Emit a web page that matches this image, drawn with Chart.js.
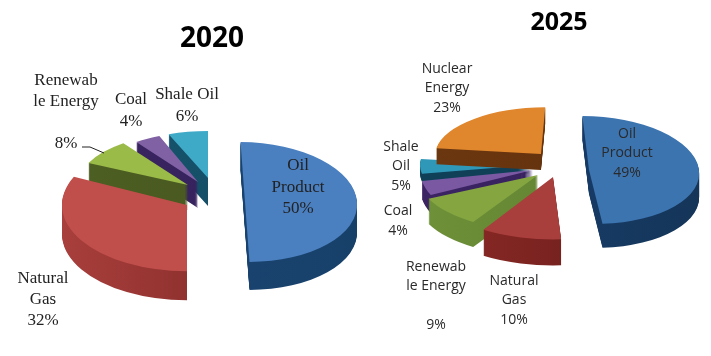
<!DOCTYPE html>
<html>
<head>
<meta charset="utf-8">
<title>Energy mix 2020 and 2025</title>
<script src="https://cdn.jsdelivr.net/npm/chart.js@4"></script>
<style>
    html, body { margin: 0; padding: 0; background: #fff; }
    #stage { position: relative; width: 711px; height: 356px; overflow: hidden; }
    canvas { position: absolute; top: 0; filter: blur(0.4px); }
    #chart2020 { left: 0; }
    #chart2025 { left: 370px; }
</style>
</head>
<body>
<div id="stage">
    <canvas id="chart2020" width="424" height="356"></canvas>
    <canvas id="chart2025" width="378" height="356"></canvas>
</div>
<script>
// Data
const categories2020 = ['Oil Product', 'Natural Gas', 'Renewable Energy', 'Coal', 'Shale Oil'];
const values2020 = [50, 32, 8, 4, 6];
const categories2025 = ['Oil Product', 'Natural Gas', 'Renewable Energy', 'Coal', 'Shale Oil', 'Nuclear Energy'];
const values2025 = [49, 10, 9, 4, 5, 23];

// Slice colours: top surface, then side wall (light to dark)
const tops2020 = ['#4a7fc0', '#c04f4b', '#9abb48', '#8062a4', '#3fa9c8'];
const walls2020 = [['#1b4673', '#174069'], ['#a83f3c', '#7a2523'], ['#4d5f22', '#465420'], ['#3a2560', '#33205a'], ['#17556e', '#134a62']];
const tops2025 = ['#3c74b0', '#a83f3c', '#85a540', '#7a58a2', '#2f98b8', '#e0862c'];
const walls2025 = [['#173f6e', '#153558'], ['#8e2b27', '#641a18'], ['#6f9138', '#5c7c30'], ['#3c2463', '#33205a'], ['#0f4058', '#0f4058'], ['#6b3710', '#5f2f0c']];

// Exploded layout of each slice, same order as the values
const cx2020 = [245, 187, 188, 198, 208];
const cy2020 = [202, 205, 185, 182, 178];
const radius2020 = [112, 125, 110, 105, 107];
const flat2020 = [0.535, 0.53, 0.47, 0.47, 0.44];
const lean2020 = [0.04, 0, 0, 0, 0];
const depth2020 = [28, 29, 25, 26, 28];
const order2020 = [0, 4, 3, 2, 1];

const cx2025 = [589, 553, 538, 533, 530, 541];
const cy2025 = [170, 177, 175, 170, 165, 154];
const radius2025 = [110, 130, 121, 113, 110, 106];
const flat2025 = [0.49, 0.48, 0.46, 0.52, 0.43, 0.44];
const lean2025 = [0.06, 0, 0, 0, 0, -0.04];
const depth2025 = [24, 26, 25, 18, 8, 16];
const order2025 = [0, 4, 3, 5, 2, 1];

// Wrapped label text ('' keeps an empty line), the value is added under it
const lines2020 = [['Oil', 'Product'], ['Natural', 'Gas'], ['Renewab', 'le Energy', ''], ['Coal'], ['Shale Oil']];
const labelX2020 = [298, 43, 66, 131, 187];
const labelY2020 = [166, 279, 81, 100, 95];
const labelStep2020 = [21.5, 21, 21, 22, 22];

const lines2025 = [['Oil', 'Product'], ['Natural', 'Gas'], ['Renewab', 'le Energy', ''], ['Coal'], ['Shale', 'Oil'], ['Nuclear', 'Energy']];
const labelX2025 = [627, 514, 436, 398, 401, 447];
const labelY2025 = [134, 281, 267, 211, 147, 69];
const labelStep2025 = [19.5, 19.5, 19.5, 20, 19.5, 19.5];

// Draws the pie's own arc elements flattened and extruded
function pie3d(look) {
    function drawArc(chart, arc, i, drop, fill) {
        const ctx = chart.ctx;
        const scale = look.radius[i] / arc.outerRadius;
        ctx.save();
        ctx.transform(scale, 0, look.lean[i] * scale, look.flat[i] * scale,
            look.cx[i] - look.left, look.cy[i] + drop);
        ctx.translate(-arc.x, -arc.y);
        const saved = arc.options;
        if (fill) {
            const grad = ctx.createLinearGradient(arc.x - arc.outerRadius, 0, arc.x + arc.outerRadius, 0);
            grad.addColorStop(0, fill[0]);
            grad.addColorStop(1, fill[1]);
            arc.options = { ...saved, backgroundColor: grad };
        }
        arc.draw(ctx);
        arc.options = saved;
        ctx.restore();
    }

    return {
        id: 'pie3d',
        beforeDatasetsDraw(chart) {
            const arcs = chart.getDatasetMeta(0).data;
            look.order.forEach(i => {
                for (let d = look.depth[i]; d > 0; d--) {
                    drawArc(chart, arcs[i], i, d, look.walls[i]);
                }
                drawArc(chart, arcs[i], i, 0, null);
            });
            return false;
        },
        afterDraw(chart) {
            const ctx = chart.ctx;
            ctx.save();
            ctx.font = look.font;
            ctx.fillStyle = look.textColor;
            ctx.textAlign = 'center';
            ctx.textBaseline = 'middle';
            look.lines.forEach((lines, i) => {
                [...lines, look.values[i] + '%'].forEach((text, n) => {
                    if (text) ctx.fillText(text, look.labelX[i] - look.left, look.labelY[i] + n * look.labelStep[i]);
                });
            });
            if (look.leader) look.leader(ctx);
            ctx.restore();
        }
    };
}

function makeChart(id, categories, values, tops, title, titleSize, titleTop, look) {
    new Chart(document.getElementById(id), {
        type: 'pie',
        data: {
            labels: categories,
            datasets: [{
                data: values,
                backgroundColor: tops,
                borderWidth: 0
            }]
        },
        options: {
            responsive: false,
            animation: false,
            radius: 100,
            plugins: {
                legend: { display: false },
                tooltip: { enabled: false },
                title: {
                    display: true,
                    text: title,
                    color: '#000',
                    font: { family: '"Open Sans"', size: titleSize, weight: 'bold' },
                    padding: { top: titleTop, bottom: 0 }
                }
            }
        },
        plugins: [pie3d(look)]
    });
}

makeChart('chart2020', categories2020, values2020, tops2020, '2020', 28, 22, {
    left: 0,
    values: values2020,
    walls: walls2020,
    cx: cx2020, cy: cy2020, radius: radius2020, flat: flat2020, lean: lean2020,
    depth: depth2020, order: order2020,
    lines: lines2020, labelX: labelX2020, labelY: labelY2020, labelStep: labelStep2020,
    font: '17px "Liberation Serif"',
    textColor: '#222',
    leader(ctx) {
        // line from the 8% label to its slice
        ctx.strokeStyle = '#222';
        ctx.lineWidth = 1;
        ctx.beginPath();
        ctx.moveTo(82, 147);
        ctx.lineTo(90, 147);
        ctx.lineTo(104, 153);
        ctx.stroke();
    }
});

makeChart('chart2025', categories2025, values2025, tops2025, '2025', 25, 8, {
    left: 370,
    values: values2025,
    walls: walls2025,
    cx: cx2025, cy: cy2025, radius: radius2025, flat: flat2025, lean: lean2025,
    depth: depth2025, order: order2025,
    lines: lines2025, labelX: labelX2025, labelY: labelY2025, labelStep: labelStep2025,
    font: '14px "Open Sans"',
    textColor: '#2a2a2a'
});
</script>
</body>
</html>
